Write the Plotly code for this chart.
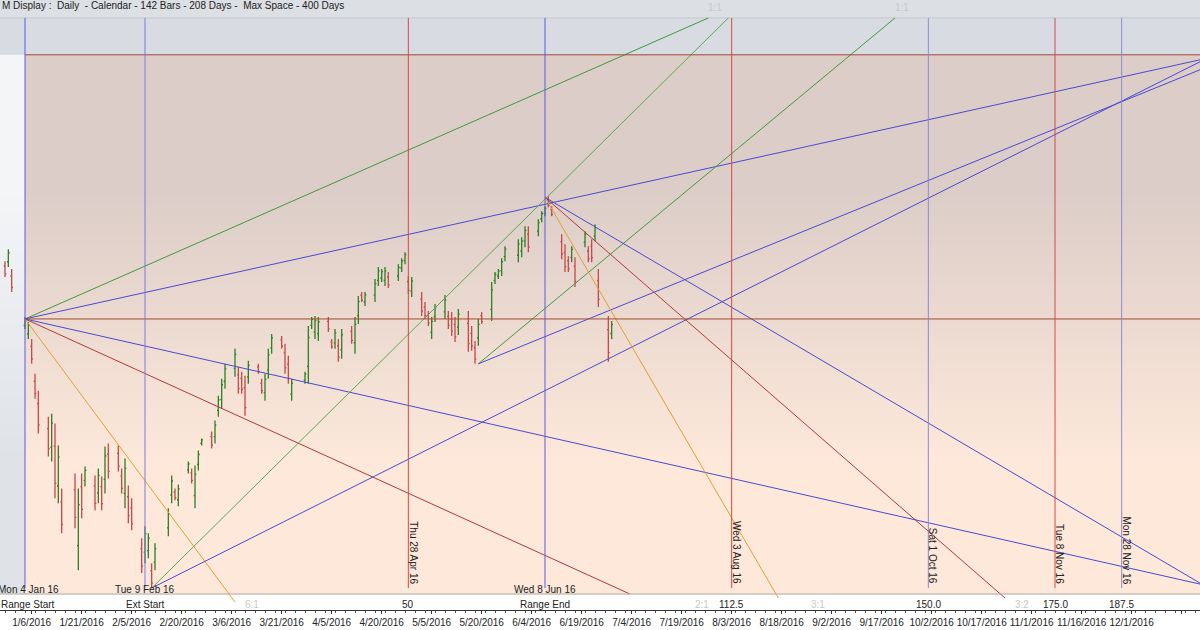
import pandas as pd
import plotly.graph_objects as go

# price units: 600 at top of plot, 0 near the bottom strip
holidays = ["2016-01-01", "2016-01-18", "2016-02-15", "2016-03-25", "2016-05-30"]

pre_dates = ["2015-12-29", "2015-12-30", "2015-12-31"]
pre_hi = [338, 350, 330]
pre_lo = [322, 332, 307]
pre_up = [0, 1, 0]

# Jan 4 .. Apr 15
a_hi = [282, 277, 260, 225, 208, 182, 185, 175, 153, 110, 125, 110, 125, 132, 123, 130, 122, 152, 155,
        153, 130, 140, 113, 100, 60, 72, 65, 35, 55, 90, 123, 110, 114, 137, 130, 133, 148, 160, 167,
        178, 203, 220, 235, 250, 232, 227, 223, 238, 235, 220, 225, 250, 265, 263, 255, 243, 220, 227, 273, 282, 283,
        282, 282, 260, 270, 260, 270, 273, 282, 303, 307, 307]
a_lo = [270, 260, 235, 200, 165, 142, 137, 100, 95, 65, 70, 28, 80, 112, 88, 95, 88, 105, 120,
        127, 105, 90, 75, 68, 25, 35, 40, 10, 28, 62, 95, 98, 92, 125, 115, 90, 128, 153, 150,
        155, 182, 190, 210, 222, 205, 205, 183, 215, 225, 205, 198, 220, 245, 250, 225, 215, 198, 215, 215, 270, 260,
        258, 267, 250, 250, 237, 240, 255, 245, 275, 297, 293]
a_up = [1, 1, 0, 0, 0, 0, 1, 0, 1, 0, 0, 1, 0, 1, 0, 1, 0, 1, 0,
        0, 0, 1, 0, 0, 0, 1, 1, 0, 1, 1, 1, 0, 1, 1, 0, 1, 1, 1, 0,
        1, 1, 1, 1, 1, 0, 0, 0, 1, 0, 0, 1, 1, 1, 0, 0, 0, 1, 1, 1, 1, 1,
        1, 0, 0, 1, 0, 1, 0, 1, 1, 0, 1]

# Apr 18 .. Jun 28
b_hi = [320, 332, 330, 332, 327, 335, 341, 347, 323, 322, 307, 297, 288, 282, 295, 304, 288, 287, 282, 290,
        288, 273, 258, 280, 287, 317, 327, 330, 341, 353, 360, 362, 373, 373, 380, 388, 393, 403, 393, 365,
        355, 343, 353, 342, 368, 353, 360, 375, 330, 283, 278]
b_lo = [297, 313, 317, 313, 311, 318, 327, 335, 305, 302, 283, 280, 273, 260, 277, 280, 270, 263, 257, 264,
        247, 248, 235, 253, 275, 278, 315, 320, 323, 338, 337, 342, 352, 347, 363, 377, 383, 392, 383, 340,
        327, 327, 337, 312, 352, 337, 337, 358, 292, 237, 260]
b_up = [1, 1, 1, 1, 0, 1, 1, 1, 0, 1, 0, 0, 0, 1, 1, 1, 0, 0, 0, 1,
        0, 0, 0, 1, 0, 1, 1, 1, 1, 1, 1, 1, 1, 0, 1, 1, 1, 0, 0, 0,
        0, 0, 1, 0, 1, 0, 0, 1, 0, 0, 1]

# Gann / angle lines from the pivots
line_x0 = ["2016-01-04"] * 5 + ["2016-02-11"] * 2 + ["2016-05-19"] * 2 + ["2016-06-08"] * 3
line_y0 = [280] * 5 + [10] * 2 + [235] * 2 + [402] * 3
line_x1 = ["2016-07-27", "2016-12-21 12:00", "2016-12-21 12:00", "2016-07-03 12:00", "2016-03-07",
           "2016-08-02", "2016-12-21 12:00", "2016-09-21", "2016-12-21 12:00",
           "2016-12-21 12:00", "2016-10-24", "2016-08-17"]
line_y1 = [582, 540, 14, 4, -4, 582, 538, 582, 530, 15, 0, 0]
line_col = ["#3f9a3f", "#4a4ad0", "#4a4ad0", "#b03a3a", "#e0a030",
            "#55aa55", "#4a4ad0", "#3f9a3f", "#4a4ad0", "#4a4ad0", "#b03a3a", "#e0a030"]

vline_dates = ["2016-01-04", "2016-02-09", "2016-04-28", "2016-06-08", "2016-08-03", "2016-10-01", "2016-11-08", "2016-11-28"]
vline_cols = ["#5a5ae0", "#7a7ae0", "#d84848", "#5a5ae0", "#d84848", "#8a8ad8", "#d84848", "#8a8ad8"]
vline_text = ["", "", "Thu 28 Apr 16", "", "Wed 3 Aug 16", "Sat 1 Oct 16", "Tue 8 Nov 16", "Mon 28 Nov 16"]
vline_num = ["", "", "50", "", "112.5", "150.0", "175.0", "187.5"]

ratio_text = ["6:1", "2:1", "3:1", "3:2"]
ratio_dates = ["2016-03-12", "2016-07-25", "2016-08-29", "2016-10-29"]

hl_prices = [545, 280]

tick_vals = pd.date_range("2015-12-22", "2016-12-16", freq="15D")
tick_text = [d.strftime("%-m/%-d/%Y") for d in tick_vals]

dates = pre_dates + [d.strftime("%Y-%m-%d") for d in
                     pd.bdate_range("2016-01-04", "2016-04-15", freq="C", holidays=holidays).append(
                         pd.bdate_range("2016-04-18", "2016-06-28", freq="C", holidays=holidays))]
hi = pre_hi + a_hi + b_hi
lo = pre_lo + a_lo + b_lo
up = pre_up + a_up + b_up
op = [l + (h - l) * 0.3 if u else h - (h - l) * 0.3 for h, l, u in zip(hi, lo, up)]
cl = [h - (h - l) * 0.2 if u else l + (h - l) * 0.2 for h, l, u in zip(hi, lo, up)]

XL, XR = "2015-12-27 12:00", "2016-12-21 12:00"
fig = go.Figure()

# shaded gradient backgrounds (heatmaps sit below the bars)
fig.add_trace(go.Heatmap(x=["2016-01-04", "2016-06-28", XR], y=[4, 274, 545], z=[[0, 0], [1, 1]],
                         zsmooth="best", showscale=False, hoverinfo="skip",
                         colorscale=[[0, "#fde8da"], [1, "#dccdc8"]]))
fig.add_trace(go.Heatmap(x=[XL, "2015-12-31", "2016-01-04"], y=[4, 274, 545], z=[[0, 0], [1, 1]],
                         zsmooth="best", showscale=False, hoverinfo="skip",
                         colorscale=[[0, "#dfe2e7"], [1, "#f4f5f7"]]))

shapes = []
shapes.append(dict(type="rect", xref="paper", x0=0, x1=1, y0=582, y1=600, fillcolor="#dcdfe3", line_width=0, layer="below"))
shapes.append(dict(type="line", xref="paper", x0=0, x1=1, y0=582, y1=582, line=dict(color="#c4c8ce", width=1), layer="below"))
shapes.append(dict(type="rect", xref="paper", x0=0, x1=1, y0=-12, y1=4, fillcolor="white", line_width=0, layer="below"))
shapes.append(dict(type="line", xref="paper", x0=0, x1=1, y0=4, y1=4, line=dict(color="#b0a8a0", width=1)))
for p in hl_prices:
    shapes.append(dict(type="line", x0="2016-01-04", x1=XR, y0=p, y1=p, line=dict(color="#a04a30", width=1)))
for d, c in zip(vline_dates, vline_cols):
    shapes.append(dict(type="line", x0=d, x1=d, y0=10, y1=582, line=dict(color=c, width=1)))
fig.update_layout(shapes=shapes)

fig.add_trace(go.Ohlc(x=dates, open=op, high=hi, low=lo, close=cl, showlegend=False,
                      increasing=dict(line=dict(color="#2f7f22", width=1.3)),
                      decreasing=dict(line=dict(color="#c84848", width=1.3)), tickwidth=0.4))

for x0, y0, x1, y1, c in zip(line_x0, line_y0, line_x1, line_y1, line_col):
    fig.add_trace(go.Scatter(x=[x0, x1], y=[y0, y1], mode="lines", line=dict(color=c, width=1),
                             hoverinfo="skip", showlegend=False))

ann = []
f = dict(family="Liberation Sans, Arial", size=10, color="#222")
grey = dict(family="Liberation Sans, Arial", size=10, color="#c8c8c8")
ann.append(dict(xref="paper", yref="y", x=0, y=594, xanchor="left",
                text="M Display :  Daily  - Calendar - 142 Bars - 208 Days -  Max Space - 400 Days", showarrow=False, font=f))
for d, t, n in zip(vline_dates, vline_text, vline_num):
    if t:
        ann.append(dict(x=d, y=12, xshift=5, yanchor="bottom", text=t, textangle=90, showarrow=False, font=f))
    if n:
        ann.append(dict(x=d, y=-6, text=n, showarrow=False, font=f))
for t, d in zip(ratio_text, ratio_dates):
    ann.append(dict(x=d, y=-6, text=t, showarrow=False, font=grey))
ann.append(dict(x="2016-07-29", y=592, text="1:1", showarrow=False, font=grey))
ann.append(dict(x="2016-09-23", y=592, text="1:1", showarrow=False, font=grey))
for d, t1, t2 in [("2016-01-05", "Mon 4 Jan 16", "Range Start"), ("2016-02-09", "Tue 9 Feb 16", "Ext Start"),
                  ("2016-06-08", "Wed 8 Jun 16", "Range End")]:
    ann.append(dict(x=d, y=9, text=t1, showarrow=False, font=f))
    ann.append(dict(x=d, y=-6, text=t2, showarrow=False, font=f))
fig.update_layout(annotations=ann)

fig.update_layout(
    width=1200, height=630, margin=dict(l=0, r=0, t=0, b=20, autoexpand=False),
    paper_bgcolor="white", plot_bgcolor="#d8dce2",
    xaxis=dict(type="date", range=[XL, XR], rangeslider=dict(visible=False), showgrid=False, zeroline=False,
               tickvals=tick_vals, ticktext=tick_text, ticks="outside", ticklen=3, tickcolor="#333",
               showline=True, linecolor="#333", tickfont=dict(family="Liberation Sans, Arial", size=10, color="#222"),
               minor=dict(ticks="outside", ticklen=2, dtick=86400000 * 3, tickcolor="#555")),
    yaxis=dict(range=[-12, 600], visible=False, showgrid=False, zeroline=False),
)
fig.write_html("out.html", config=dict(displayModeBar=False),
               post_script="document.body.style.margin='0';")
